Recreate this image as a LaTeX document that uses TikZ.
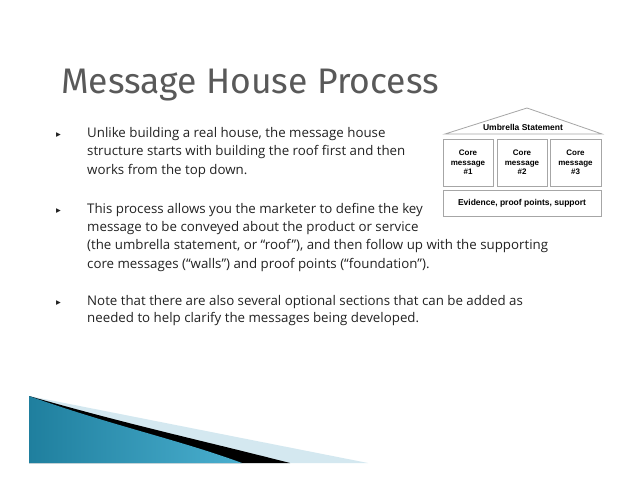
\documentclass[tikz,border=0pt]{standalone}
\usepackage{fontspec}
\setmainfont{Open Sans}
\newfontfamily\titlefont{Fira Sans}
\newfontfamily\arialfont{Liberation Sans}
\newfontfamily\dv{DejaVu Sans}
\definecolor{txt}{HTML}{222222}
\definecolor{ttl}{HTML}{595959}
\definecolor{tealA}{HTML}{1F7F9E}
\definecolor{tealB}{HTML}{4AAFCF}
\definecolor{lightb}{HTML}{D4E8F0}
\begin{document}
\begin{tikzpicture}[x=1pt,y=-1pt,
  line/.style={anchor=base west,inner sep=0,font=\fontsize{13.3}{14}\selectfont,text=txt},
  bul/.style={anchor=base west,inner sep=0,font=\dv\fontsize{9.5}{10}\selectfont,text=txt},
  hbox/.style={draw=gray!70,line width=0.8pt,font=\arialfont\bfseries\fontsize{8}{9.5}\selectfont,align=center}]
\useasboundingbox (0,0) rectangle (638,493);
\fill[white] (0,0) rectangle (638,493);
\node[anchor=base west,inner sep=0,font=\titlefont\fontsize{35.5}{37}\selectfont,text=ttl] (title) at (61,93) {Message House Process};
% bullets
\node[bul] (b1) at (56,137) {▸};
\node[bul] (b2) at (56,213) {▸};
\node[bul] (b3) at (56,305) {▸};
\node[line] (l1) at (87,137) {Unlike building a real house, the message house};
\node[line] (l2) at (87,155) {structure starts with building the roof first and then};
\node[line] (l3) at (87,174) {works from the top down.};
\node[line] (l4) at (87,213) {This process allows you the marketer to define the key};
\node[line] (l5) at (87,231) {message to be conveyed about the product or service};
\node[line] (l6) at (87,249) {(the umbrella statement, or “roof”), and then follow up with the supporting};
\node[line] (l7) at (87,268) {core messages (“walls”) and proof points (“foundation”).};
\node[line] (l8) at (87,305) {Note that there are also several optional sections that can be added as};
\node[line] (l9) at (87,322) {needed to help clarify the messages being developed.};
% house
\draw[gray!70,line width=0.8pt] (445,134) -- (527,108) -- (602,134) -- cycle;
\node[font=\arialfont\bfseries\fontsize{8.5}{9}\selectfont] (umb) at (523,127) {Umbrella Statement};
\node[hbox,minimum width=50,minimum height=47] (c1) at (468,162.5) {Core\\message\\\#1};
\node[hbox,minimum width=50,minimum height=47] (c2) at (522,162.5) {Core\\message\\\#2};
\node[hbox,minimum width=51,minimum height=47] (c3) at (575.5,162.5) {Core\\message\\\#3};
\node[hbox,minimum width=158,minimum height=26,font=\arialfont\bfseries\fontsize{8.5}{9.5}\selectfont] (ev) at (522,203) {Evidence, proof points, support};
% decoration
\fill[lightb] (29,396) -- (368,463) -- (29,463) -- cycle;
\fill[black] (29,396) .. controls (130,425) and (200,440) .. (290,463) -- (29,463) -- cycle;
\shade[left color=tealA,right color=tealB] (29,396) .. controls (110,425) and (180,440) .. (242,463) -- (29,463) -- cycle;
\end{tikzpicture}
\end{document}
